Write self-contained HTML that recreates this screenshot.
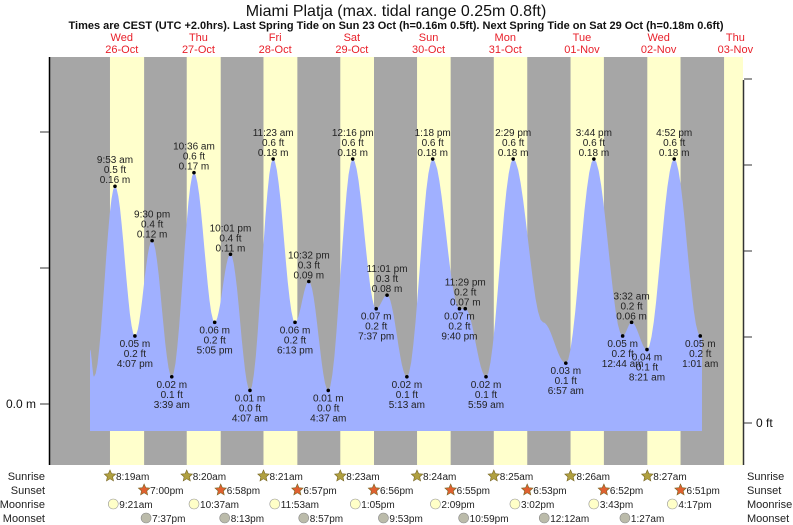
<!DOCTYPE html>
<html><head><meta charset="utf-8"><style>
body{margin:0;background:#fff;}
svg{display:block;font-family:"Liberation Sans",sans-serif;}
</style></head><body>
<svg id="s" width="793" height="525" viewBox="0 0 793 525" xmlns="http://www.w3.org/2000/svg">
<text x="396" y="16" font-size="16" text-anchor="middle" fill="#111">Miami Platja (max. tidal range 0.25m 0.8ft)</text>
<text x="396" y="29" font-size="11" font-weight="bold" text-anchor="middle" fill="#111">Times are CEST (UTC +2.0hrs). Last Spring Tide on Sun 23 Oct (h=0.16m 0.5ft). Next Spring Tide on Sat 29 Oct (h=0.18m 0.6ft)</text>
<rect x="50" y="57" width="693" height="408" fill="#a6a6a6"/>
<g id="bands" fill="#ffffcc"></g>
<path id="tide" fill="#a0b0ff"/>
<g id="lbl" font-size="10" fill="#222" text-anchor="middle"></g>
<g id="days" font-size="11" fill="#e8202a" text-anchor="middle"></g>
<line x1="49.5" y1="57" x2="49.5" y2="465" stroke="#000" stroke-width="1.5"/>
<line x1="743.5" y1="80" x2="743.5" y2="465" stroke="#333" stroke-width="1.5"/>
<g stroke="#333" stroke-width="1">
<line x1="40" y1="404" x2="49" y2="404"/><line x1="40" y1="268" x2="49" y2="268"/><line x1="40" y1="132" x2="49" y2="132"/>
<line x1="744" y1="423" x2="752" y2="423"/><line x1="744" y1="337" x2="752" y2="337"/><line x1="744" y1="251" x2="752" y2="251"/><line x1="744" y1="165" x2="752" y2="165"/><line x1="744" y1="79" x2="752" y2="79"/>
</g>
<text x="36" y="408" font-size="12" text-anchor="end" fill="#111">0.0 m</text>
<text x="756" y="427" font-size="12" fill="#111">0 ft</text>
<g font-size="11" fill="#222">
<text x="45" y="480" text-anchor="end">Sunrise</text><text x="45" y="494" text-anchor="end">Sunset</text><text x="45" y="508" text-anchor="end">Moonrise</text><text x="45" y="522" text-anchor="end">Moonset</text>
<text x="747" y="480">Sunrise</text><text x="747" y="494">Sunset</text><text x="747" y="508">Moonrise</text><text x="747" y="522">Moonset</text>
</g>
<g id="bot" font-size="10" fill="#222"></g>
</svg>
<script>
var X0=83.4,D=76.7,Z=404,K=1361;
function tx(d,h,m){return X0+D*d+(h+m/60)/24*D;}
function ty(v){return Z-v*K;}
var ns="http://www.w3.org/2000/svg";
function el(p,n,a,t){var e=document.createElementNS(ns,n);for(var k in a)e.setAttribute(k,a[k]);if(t!=null)e.textContent=t;document.getElementById(p).appendChild(e);return e;}
var sr=[[8,19],[8,20],[8,21],[8,23],[8,24],[8,25],[8,26],[8,27],[8,28]];
var ss=[[19,0],[18,58],[18,57],[18,56],[18,55],[18,53],[18,52],[18,51],[18,50]];
for(var d=0;d<9;d++){var a=tx(d,sr[d][0],sr[d][1]),b=Math.min(743,tx(d,ss[d][0],ss[d][1]));el("bands","rect",{x:a,y:57,width:b-a,height:408});}
var dn=["Wed","Thu","Fri","Sat","Sun","Mon","Tue","Wed","Thu"],dd=["26-Oct","27-Oct","28-Oct","29-Oct","30-Oct","31-Oct","01-Nov","02-Nov","03-Nov"];
for(var d=0;d<9;d++){var x=tx(d,12,0);el("days","text",{x:x,y:41},dn[d]);el("days","text",{x:x,y:53},dd[d]);}
var P=[[0,9,53,.16,1,"9:53 am","0.5"],[0,16,7,.05,0,"4:07 pm","0.2"],[0,21,30,.12,1,"9:30 pm","0.4"],
[1,3,39,.02,0,"3:39 am","0.1"],[1,10,36,.17,1,"10:36 am","0.6"],[1,17,5,.06,0,"5:05 pm","0.2"],[1,22,1,.11,1,"10:01 pm","0.4"],
[2,4,7,.01,0,"4:07 am","0.0"],[2,11,23,.18,1,"11:23 am","0.6"],[2,18,13,.06,0,"6:13 pm","0.2"],[2,22,32,.09,1,"10:32 pm","0.3"],
[3,4,37,.01,0,"4:37 am","0.0"],[3,12,16,.18,1,"12:16 pm","0.6"],[3,19,37,.07,0,"7:37 pm","0.2"],[3,23,1,.08,1,"11:01 pm","0.3"],
[4,5,13,.02,0,"5:13 am","0.1"],[4,13,18,.18,1,"1:18 pm","0.6"],[4,21,40,.07,0,"9:40 pm","0.2"],[4,23,29,.07,1,"11:29 pm","0.2"],
[5,5,59,.02,0,"5:59 am","0.1"],[5,14,29,.18,1,"2:29 pm","0.6"],
[6,6,57,.03,0,"6:57 am","0.1"],[6,15,44,.18,1,"3:44 pm","0.6"],
[7,0,44,.05,0,"12:44 am","0.2"],[7,3,32,.06,1,"3:32 am","0.2"],[7,8,21,.04,0,"8:21 am","0.1"],[7,16,52,.18,1,"4:52 pm","0.6"],
[8,1,1,.05,0,"1:01 am","0.2"]];
var pts=[[90,.04],[94,.02]];
P.forEach(function(p,i){var x=tx(p[0],p[1],p[2]);pts.push([x,p[3]]);
 if(i==20){pts.push([543,.06]);}});
pts.push([702,.048]);
var dpath="M90,431 L90,"+ty(.04);
for(var i=0;i<pts.length-1;i++){var a=pts[i],b=pts[i+1];for(var s=1;s<=12;s++){var t=s/12,x=a[0]+(b[0]-a[0])*t,v=a[1]+(b[1]-a[1])*(1-Math.cos(Math.PI*t))/2;dpath+=" L"+x.toFixed(1)+","+ty(v).toFixed(1);}}
dpath+=" L702,431 Z";document.getElementById("tide").setAttribute("d",dpath);
P.forEach(function(p){var x=tx(p[0],p[1],p[2]),y=ty(p[3]);el("lbl","circle",{cx:x,cy:y,r:1.8,fill:"#000"});
 var m=p[3].toFixed(2)+" m",f=p[6]+" ft";
 if(p[4]){el("lbl","text",{x:x,y:y-3},m);el("lbl","text",{x:x,y:y-13},f);el("lbl","text",{x:x,y:y-23},p[5]);}
 else{el("lbl","text",{x:x,y:y+11},m);el("lbl","text",{x:x,y:y+21},f);el("lbl","text",{x:x,y:y+31},p[5]);}});
function star(x,y,c){var s="";for(var i=0;i<10;i++){var r=i%2?2.8:6,a=-Math.PI/2+i*Math.PI/5;s+=(x+r*Math.cos(a)).toFixed(1)+","+(y+r*Math.sin(a)).toFixed(1)+" ";}el("bot","polygon",{points:s,fill:c,stroke:"#776622","stroke-width":.6});}
var srt=["8:19am","8:20am","8:21am","8:23am","8:24am","8:25am","8:26am","8:27am"],sst=["7:00pm","6:58pm","6:57pm","6:56pm","6:55pm","6:53pm","6:52pm","6:51pm"];
for(var d=0;d<8;d++){var x=tx(d,sr[d][0],sr[d][1]);star(x,476,"#b0a040");el("bot","text",{x:x+6,y:480},srt[d]);
 x=tx(d,ss[d][0],ss[d][1]);star(x,490,"#e06030");el("bot","text",{x:x+6,y:494},sst[d]);}
var mr=[[0,9,21,"9:21am"],[1,10,37,"10:37am"],[2,11,53,"11:53am"],[3,13,5,"1:05pm"],[4,14,9,"2:09pm"],[5,15,2,"3:02pm"],[6,15,43,"3:43pm"],[7,16,17,"4:17pm"]];
mr.forEach(function(m){var x=tx(m[0],m[1],m[2]);el("bot","circle",{cx:x,cy:504,r:5,fill:"#ffffc8",stroke:"#999","stroke-width":.6});el("bot","text",{x:x+6,y:508},m[3]);});
var ms=[[0,19,37,"7:37pm"],[1,20,13,"8:13pm"],[2,20,57,"8:57pm"],[3,21,53,"9:53pm"],[4,22,59,"10:59pm"],[6,0,12,"12:12am"],[7,1,27,"1:27am"]];
ms.forEach(function(m){var x=tx(m[0],m[1],m[2]);el("bot","circle",{cx:x,cy:518,r:5,fill:"#bbbbaa",stroke:"#888","stroke-width":.6});el("bot","text",{x:x+6,y:522},m[3]);});
</script>
</body></html>
